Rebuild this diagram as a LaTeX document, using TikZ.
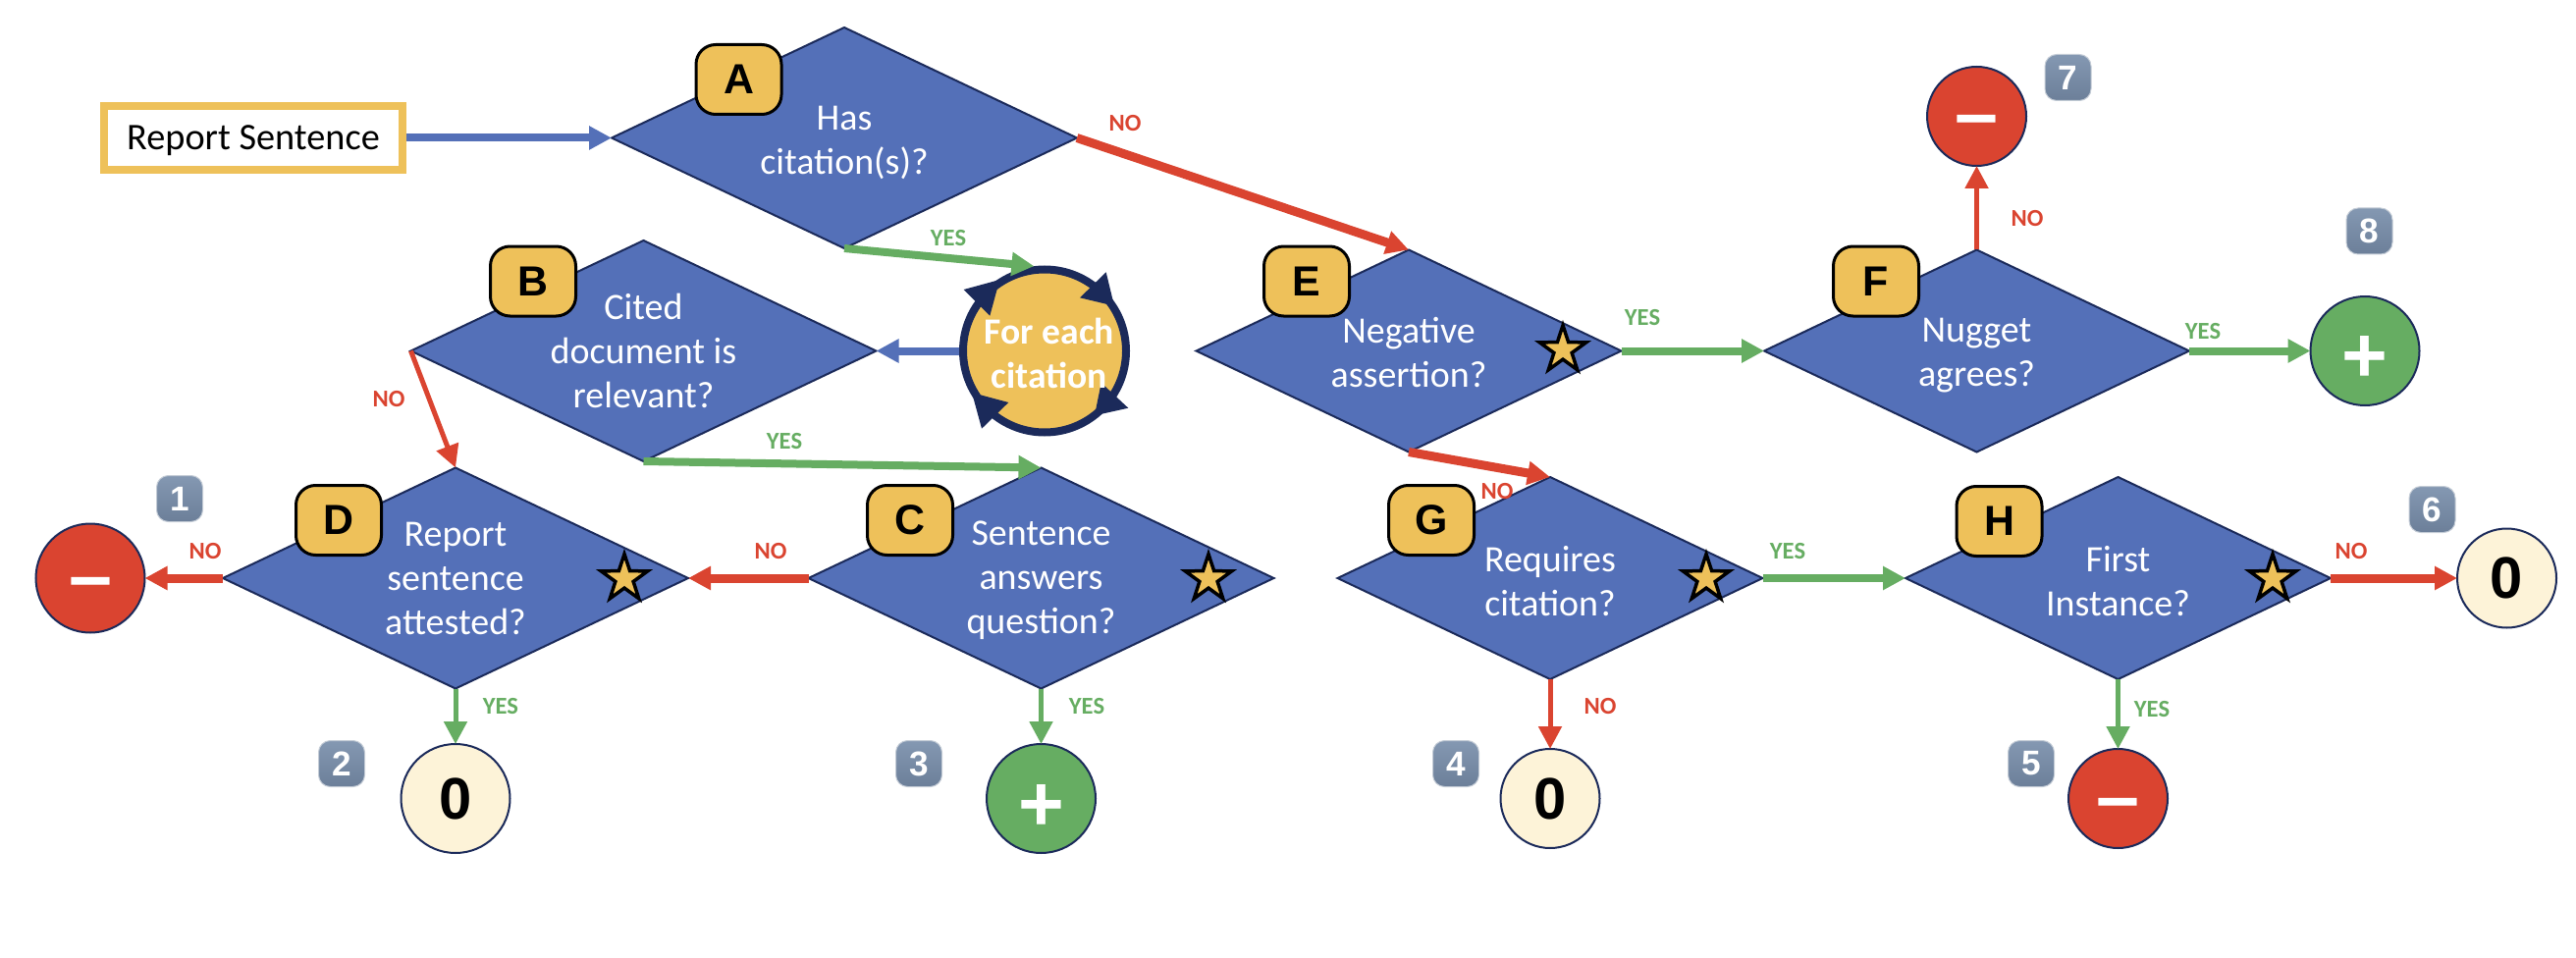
\documentclass[tikz,border=0pt]{standalone}
\usepackage{fontspec}
\setmainfont{Carlito}
\newfontfamily\labelfont{Liberation Sans}
\usetikzlibrary{positioning, calc, arrows.meta, shapes.geometric}
\definecolor{deciblue}{HTML}{5470B8}
\definecolor{edgenavy}{HTML}{1B2A5A}
\definecolor{tagyellow}{HTML}{EEC15A}
\definecolor{flowred}{HTML}{DA4430}
\definecolor{flowgreen}{HTML}{66AD62}
\definecolor{zerocream}{HTML}{FDF3D8}
\definecolor{numtop}{HTML}{8498B2}
\definecolor{numbot}{HTML}{6C7F99}
\newcommand{\lifted}[1]{\rule{0pt}{#1}}
\tikzset{
  bigdec/.style={diamond, draw=edgenavy, fill=deciblue, line width=0.2mm, text=white, aspect=2.1, inner sep=0pt, outer sep=0pt,
    minimum width=4.74cm, minimum height=2.25cm, align=center, font=\fontsize{10.8}{12.8}\selectfont},
  smalldec/.style={bigdec, minimum width=4.33cm, minimum height=2.06cm},
  lettertag/.style={rectangle, rounded corners=0.2cm, draw=black, fill=tagyellow, line width=0.3mm, minimum width=0.87cm, minimum height=0.71cm,
    inner sep=0pt, font=\labelfont\bfseries\fontsize{12.2}{14}\selectfont},
  numtag/.style={rectangle, rounded corners=0.12cm, top color=numtop, bottom color=numbot, draw=numbot!40!white, line width=0.1mm,
    minimum width=0.47cm, minimum height=0.47cm, inner sep=0pt, text=white, font=\labelfont\bfseries\fontsize{10}{12}\selectfont},
  result/.style={circle, draw=edgenavy, line width=0.2mm, inner sep=0pt, outer sep=0pt, minimum size=1.11cm, font=\labelfont\bfseries\fontsize{17}{20}\selectfont},
  resultsm/.style={result, minimum size=1.01cm},
  minusmark/.style={fill=flowred, text=white, text height=4.9mm, text depth=0pt, font=\labelfont\bfseries\fontsize{22.5}{24}\selectfont},
  plusmark/.style={fill=flowgreen, text=white, text height=6.5mm, text depth=0pt, font=\labelfont\bfseries\fontsize{22.8}{24}\selectfont},
  zeromark/.style={fill=zerocream, text=black},
  starmark/.style={star, star points=5, star point ratio=2.6, draw=black, fill=tagyellow, line width=0.35mm, inner sep=0pt, minimum size=0.5cm},
  yeslabel/.style={text=flowgreen, inner sep=0pt, font=\bfseries\fontsize{7}{8}\selectfont},
  nolabel/.style={text=flowred, inner sep=0pt, font=\bfseries\fontsize{7}{8}\selectfont},
  headtip/.style={-{Triangle[length=2.3mm,width=2.3mm]}},
  bluewide/.style={headtip, draw=deciblue, line width=0.8mm},
  redwide/.style={headtip, draw=flowred, line width=0.9mm},
  redthin/.style={headtip, draw=flowred, line width=0.5mm},
  greenwide/.style={headtip, draw=flowgreen, line width=0.8mm},
  greenthin/.style={headtip, draw=flowgreen, line width=0.5mm}
}
\begin{document}
\begin{tikzpicture}
\useasboundingbox (0,0) rectangle (26.24,-9.76);

\node[rectangle, draw=tagyellow, line width=0.8mm, minimum width=3.04cm, minimum height=0.65cm, inner sep=0pt, text depth=0pt, font=\fontsize{10.9}{13}\selectfont] (report) at (2.58,-1.405) {Report Sentence};

% decisions
\node[bigdec] (a) at (8.60,-1.405) {\lifted{3.4mm}Has\\citation(s)?};
\node[bigdec] (b) at (6.555,-3.575) {Cited\\document is\\relevant?};
\node[bigdec] (c) at (10.605,-5.89) {\lifted{3.0mm}Sentence\\answers\\question?};
\node[bigdec] (d) at (4.64,-5.89) {Report\\sentence\\attested?};
\node[smalldec] (e) at (14.35,-3.575) {\lifted{2.9mm}Negative\\assertion?};
\node[smalldec] (f) at (20.135,-3.575) {\lifted{3.4mm}Nugget\\agrees?};
\node[smalldec] (g) at (15.79,-5.89) {\lifted{3.2mm}Requires\\citation?};
\node[smalldec] (h) at (21.575,-5.89) {\lifted{3.2mm}First\\Instance?};

% letter tags
\node[lettertag] (taga) at (7.525,-0.81) {A};
\node[lettertag] (tagb) at (5.43,-2.865) {B};
\node[lettertag] (tagc) at (9.27,-5.30) {C};
\node[lettertag] (tagd) at (3.45,-5.30) {D};
\node[lettertag] (tage) at (13.31,-2.865) {E};
\node[lettertag] (tagf) at (19.11,-2.865) {F};
\node[lettertag] (tagg) at (14.58,-5.30) {G};
\node[lettertag] (tagh) at (20.365,-5.31) {H};

% stars
\node[starmark] (stare) at (15.92,-3.565) {};
\node[starmark] (stard) at (6.36,-5.895) {};
\node[starmark] (starc) at (12.31,-5.895) {};
\node[starmark] (starg) at (17.38,-5.895) {};
\node[starmark] (starh) at (23.15,-5.895) {};

% for each loop
\node[circle, draw=edgenavy, fill=tagyellow, line width=0.8mm, inner sep=0pt, minimum size=1.66cm] (loop) at (10.64,-3.575) {};
\fill[edgenavy] (11.267,-2.773) -- (11.00,-3.033) -- (11.35,-3.117) -- cycle;
\fill[edgenavy] (9.817,-2.95) -- (10.183,-2.85) -- (10.083,-3.217) -- cycle;
\fill[edgenavy] (10.00,-4.367) -- (9.90,-4.00) -- (10.273,-4.10) -- cycle;
\fill[edgenavy] (11.493,-4.157) -- (11.15,-4.233) -- (11.217,-3.90) -- cycle;
\node[text=white, align=center, font=\bfseries\fontsize{10.7}{12.8}\selectfont, inner sep=0pt] (looptext) at (10.69,-3.60) {For each\\citation};

% results
\node[result, minusmark] (res1) at (0.92,-5.89) {–};
\node[result, zeromark] (res2) at (4.64,-8.135) {0};
\node[result, plusmark] (res3) at (10.605,-8.135) {+};
\node[resultsm, zeromark] (res4) at (15.79,-8.135) {0};
\node[resultsm, minusmark] (res5) at (21.575,-8.135) {–};
\node[resultsm, zeromark] (res6) at (25.535,-5.89) {0};
\node[resultsm, minusmark] (res7) at (20.135,-1.185) {–};
\node[result, plusmark] (res8) at (24.09,-3.575) {+};

% number tags
\node[numtag] (num1) at (1.83,-5.08) {1};
\node[numtag] (num2) at (3.48,-7.78) {2};
\node[numtag] (num3) at (9.36,-7.78) {3};
\node[numtag] (num4) at (14.83,-7.78) {4};
\node[numtag] (num5) at (20.69,-7.78) {5};
\node[numtag] (num6) at (24.775,-5.19) {6};
\node[numtag] (num7) at (21.065,-0.79) {7};
\node[numtag] (num8) at (24.135,-2.355) {8};

\path
    (report) edge[bluewide] (a.west)
    (a.east) edge[redwide] (e.north)
    (a.south) edge[greenwide] (loop.97)
    (loop) edge[bluewide] (b.east)
    (b.west) edge[redthin] (d.north)
    (b.south) edge[greenwide] (c.north)
    (c.west) edge[redwide] (d.east)
    (d.west) edge[redwide] (res1)
    (d.south) edge[greenthin] (res2)
    (c.south) edge[greenthin] (res3)
    (e.east) edge[greenwide] (f.west)
    (e.south) edge[redwide] (g.north)
    (f.north) edge[redthin] (res7)
    (f.east) edge[greenwide] (res8)
    (g.east) edge[greenwide] (h.west)
    (g.south) edge[redthin] (res4)
    (h.east) edge[redwide] (res6)
    (h.south) edge[greenthin] (res5);

% edge labels
\node[nolabel] (noa) at (11.46,-1.26) {NO};
\node[yeslabel] (yesa) at (9.66,-2.43) {YES};
\node[nolabel] (nob) at (3.96,-4.07) {NO};
\node[yeslabel] (yesb) at (7.99,-4.50) {YES};
\node[nolabel] (noc) at (7.85,-5.62) {NO};
\node[yeslabel] (yesc) at (11.07,-7.20) {YES};
\node[nolabel] (nod) at (2.09,-5.62) {NO};
\node[yeslabel] (yesd) at (5.10,-7.20) {YES};
\node[yeslabel] (yese) at (16.73,-3.24) {YES};
\node[nolabel] (noe) at (15.25,-5.01) {NO};
\node[nolabel] (nof) at (20.65,-2.23) {NO};
\node[yeslabel] (yesf) at (22.44,-3.38) {YES};
\node[yeslabel] (yesg) at (18.21,-5.62) {YES};
\node[nolabel] (nog) at (16.30,-7.20) {NO};
\node[nolabel] (noh) at (23.95,-5.62) {NO};
\node[yeslabel] (yesh) at (21.92,-7.23) {YES};
\end{tikzpicture}
\end{document}
